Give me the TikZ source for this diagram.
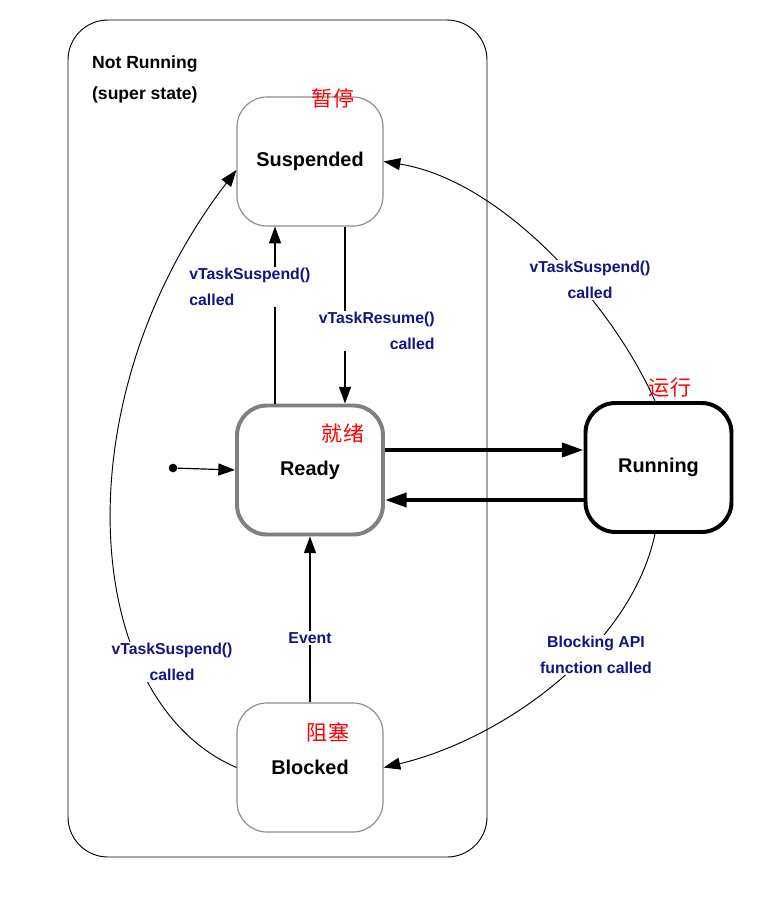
\documentclass[tikz,border=0pt]{standalone}
\usepackage{fontspec}
\setmainfont{Liberation Sans}
\newfontfamily\cjk{Noto Sans CJK SC}
\usetikzlibrary{positioning,arrows.meta}
\definecolor{lblue}{RGB}{20,20,130}
\begin{document}
\begin{tikzpicture}[x=0.3mm,y=-0.3mm,>={Triangle[length=5mm,width=3.6mm]},
    state/.style={draw=black!45, line width=1pt, rounded corners=9mm, minimum width=43.8mm,
        minimum height=38.7mm, font=\fontsize{17}{20}\selectfont\bfseries},
    cn/.style={text=red, font=\cjk\fontsize{18}{20}\selectfont},
    lbl/.style={text=lblue, fill=white, inner sep=1pt,
        font=\fontsize{13.5}{22}\selectfont\bfseries}]
    \useasboundingbox (0,0) rectangle (760,897);

    % super state
    \node[draw, rounded corners=12mm, minimum width=125.7mm, minimum height=251.1mm,
        line width=0.8pt] (NotRunning) at (277.5,438.5) {};
    \node[anchor=north west, align=left, font=\fontsize{15}{26}\selectfont\bfseries]
        (NRlabel) at (88,52) {Not Running\\(super state)};

    % states
    \node[state] (Suspended) at (310,161.5) {Suspended};
    \node[state, line width=3.4pt, draw=black!50] (Ready) at (310,470) {Ready};
    \node[state, draw=black, line width=3.4pt] (Running) at (658.5,467.5) {Running};
    \node[state] (Blocked) at (310,767.5) {Blocked};

    % chinese names
    \node[cn] (cSusp) at (333,98) {暂停};
    \node[cn] (cReady) at (343,433) {就绪};
    \node[cn] (cRun) at (670,388) {运行};
    \node[cn] (cBlock) at (328,732) {阻塞};

    % initial
    \node[circle, fill, inner sep=2.6pt] (Init) at (173,468) {};
    \draw[->, line width=1pt] (Init) -- (Ready.west);

    % transitions
    \draw[->, line width=1pt] (Ready.north -| 275,0) -- (Suspended.south -| 275,0);
    \node[lbl, align=left, anchor=west] (l1) at (188,287) {vTaskSuspend()\\called};
    \draw[->, line width=1pt] (Suspended.south -| 345,0) -- (Ready.north -| 345,0);
    \node[lbl, align=right, anchor=east] (l2) at (436,331) {vTaskResume()\\called};

    \draw[-{Triangle[length=6.5mm,width=4.2mm]}, line width=3.4pt] (Ready.east |- 0,450) -- (Running.west |- 0,450);
    \draw[-{Triangle[length=6.5mm,width=4.2mm]}, line width=3.4pt] (Running.west |- 0,500) -- (Ready.east |- 0,500);

    \draw[->, line width=0.8pt] (Running.north -| 655,0) .. controls (610,300) and (500,180) .. (Suspended.east);
    \node[lbl, align=center] (l3) at (590,280) {vTaskSuspend()\\called};

    \draw[->, line width=0.8pt] (Running.south -| 655,0) .. controls (630,650) and (500,740) .. (Blocked.east);
    \node[lbl, align=center] (l4) at (596,655) {Blocking API\\function called};

    \draw[->, line width=0.8pt] (Blocked.west) .. controls (80,700) and (60,400) .. (Suspended.west |- 0,170);
    \node[lbl, align=center] (l5) at (172,662) {vTaskSuspend()\\called};

    \draw[->, line width=1pt] (Blocked.north) -- (Ready.south);
    \node[lbl] (l6) at (310,638) {Event};
\end{tikzpicture}
\end{document}
